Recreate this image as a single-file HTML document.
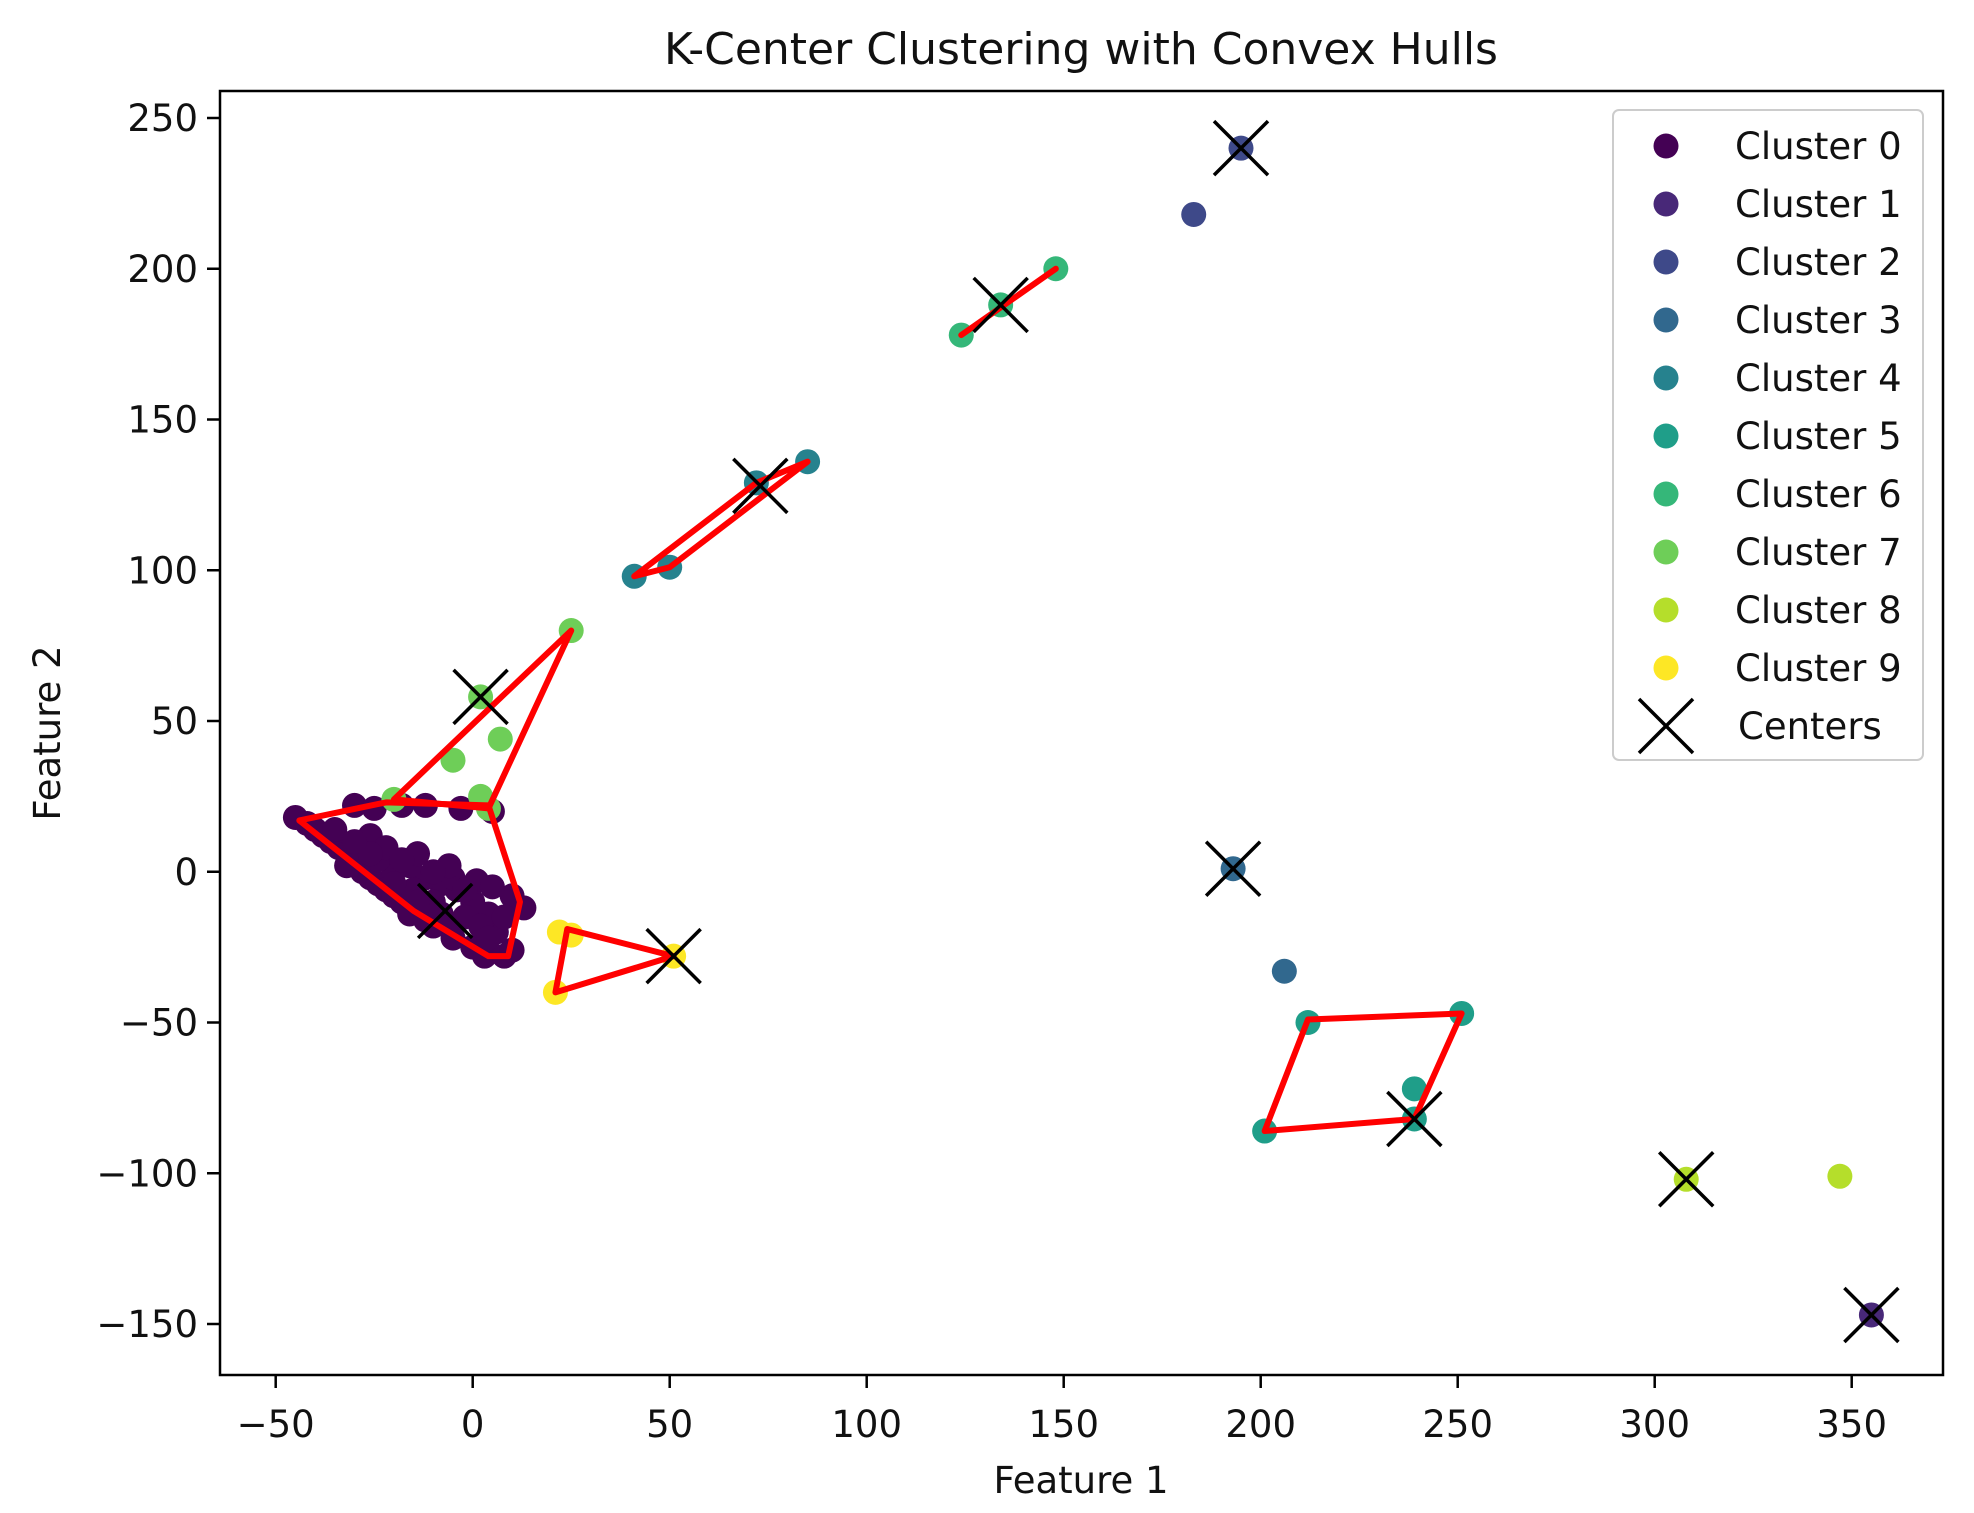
<!DOCTYPE html>
<html><head><meta charset="utf-8"><style>
html,body{margin:0;padding:0;background:#fff;}
svg{display:block;font-family:"DejaVu Sans","Liberation Sans",sans-serif;}
</style></head><body>
<svg id="s" width="1974" height="1513" viewBox="0 0 1974 1513" xmlns="http://www.w3.org/2000/svg">
<rect width="1974" height="1513" fill="#fff"/>
<text x="1081" y="64" font-size="44" text-anchor="middle" fill="#111">K-Center Clustering with Convex Hulls</text>
<g id="plot"></g>
<rect x="220" y="91" width="1723" height="1284" fill="none" stroke="#000" stroke-width="2.5"/>
<g id="ticks" font-size="37" fill="#111"></g>
<text x="1081" y="1493" font-size="37" text-anchor="middle" fill="#111">Feature 1</text>
<text transform="translate(60,733) rotate(-90)" font-size="37" text-anchor="middle" fill="#111">Feature 2</text>
<rect x="1613" y="110" width="310" height="650" rx="6" fill="#fff" fill-opacity="0.8" stroke="#ccc" stroke-width="2"/>
<g id="legend" font-size="37" fill="#111"></g>
</svg>
<script>
var NS="http://www.w3.org/2000/svg";
function X(v){return 472.7+3.94*v;}
function Y(v){return 118+(250-v)*3.015;}
function el(tag,attrs,parent,txt){var e=document.createElementNS(NS,tag);for(var k in attrs)e.setAttribute(k,attrs[k]);if(txt!==undefined)e.textContent=txt;parent.appendChild(e);return e;}
var col=["#440154","#482878","#3e4989","#31688e","#26828e","#1f9e89","#35b779","#6ece58","#b5de2b","#fde725"];
var plot=document.getElementById("plot"),ticks=document.getElementById("ticks"),leg=document.getElementById("legend");
var pts={
0:[[-45,18],[-42,16],[-40,14],[-38,12],[-36,10],[-34,8],[-32,6],[-30,4],[-32,2],[-28,0],[-26,-2],[-24,-4],[-22,-6],[-20,-8],[-18,-10],[-16,-14],[-12,-16],[-10,-18],[-5,-22],[0,-25],[3,-28],[8,-28],[10,-26],[6,-20],[4,-14],[0,-10],[-4,-6],[-8,-4],[-12,-2],[-16,2],[-20,0],[-24,4],[-28,8],[-26,12],[-30,22],[-25,21],[-18,22],[-12,22],[-3,21],[5,20],[1,-3],[-5,-2],[10,-8],[13,-12],[-15,-6],[-10,-10],[-20,-4],[5,-5],[8,-15],[-2,-15],[-8,-14],[-35,14],[-22,8],[-14,6],[-6,2],[2,-18],[-26,6],[-18,4],[-10,0],[-2,-6],[4,-22],[-6,-18],[-14,-10],[-30,10]],
1:[[355,-147]],
2:[[195,240],[183,218]],
3:[[193,1],[206,-33]],
4:[[41,98],[50,101],[85,136],[72,129]],
5:[[212,-50],[251,-47],[239,-72],[201,-86],[239,-82]],
6:[[124,178],[148,200],[134,188]],
7:[[25,80],[2,58],[7,44],[-5,37],[2,25],[4,21],[-20,24]],
8:[[308,-102],[347,-101]],
9:[[22,-20],[25,-21],[21,-40],[51,-28]]};
for(var c=0;c<10;c++)pts[c].forEach(function(p){el("circle",{cx:X(p[0]),cy:Y(p[1]),r:12.5,fill:col[c]},plot);});
var hulls=[
[[-44,17],[-22,23],[4,22],[12,-10],[9,-28],[4,-28],[-15,-13]],
[[41,98],[50,101],[85,136],[72,129]],
[[124,178],[148,200]],
[[-20,24],[25,80],[4,21]],
[[24,-19],[51,-28],[21,-40]],
[[212,-49],[251,-47],[239,-82],[201,-86]]];
hulls.forEach(function(h){el("polygon",{points:h.map(function(p){return X(p[0])+","+Y(p[1]);}).join(" "),fill:"none",stroke:"#ff0000","stroke-width":6,"stroke-linejoin":"round"},plot);});
var cen=[[195,240],[134,188],[73,128],[2,58],[-7,-13],[51,-28],[193,1],[239,-82],[308,-102],[355,-147]];
cen.forEach(function(p){var x=X(p[0]),y=Y(p[1]),d=27;el("path",{d:"M"+(x-d)+","+(y-d)+"L"+(x+d)+","+(y+d)+"M"+(x-d)+","+(y+d)+"L"+(x+d)+","+(y-d),stroke:"#000","stroke-width":3.5,fill:"none"},plot);});
for(var v=-50;v<=350;v+=50){var x=X(v);el("line",{x1:x,y1:1375,x2:x,y2:1388,stroke:"#000","stroke-width":2.5},ticks);el("text",{x:x,y:1437,"text-anchor":"middle"},ticks,(v<0?"\u2212":"")+Math.abs(v));}
for(var v=-150;v<=250;v+=50){var y=Y(v);el("line",{x1:207,y1:y,x2:220,y2:y,stroke:"#000","stroke-width":2.5},ticks);el("text",{x:198,y:y+13,"text-anchor":"end"},ticks,(v<0?"\u2212":"")+Math.abs(v));}
for(var c=0;c<10;c++){var y=146+58*c;el("circle",{cx:1666,cy:y,r:12.5,fill:col[c]},leg);el("text",{x:1735,y:y+13},leg,"Cluster "+c);}
var y=726,x=1666,d=27;el("path",{d:"M"+(x-d)+","+(y-d)+"L"+(x+d)+","+(y+d)+"M"+(x-d)+","+(y+d)+"L"+(x+d)+","+(y-d),stroke:"#000","stroke-width":3.5,fill:"none"},leg);
el("text",{x:1738,y:y+13},leg,"Centers");
</script>
</body></html>
